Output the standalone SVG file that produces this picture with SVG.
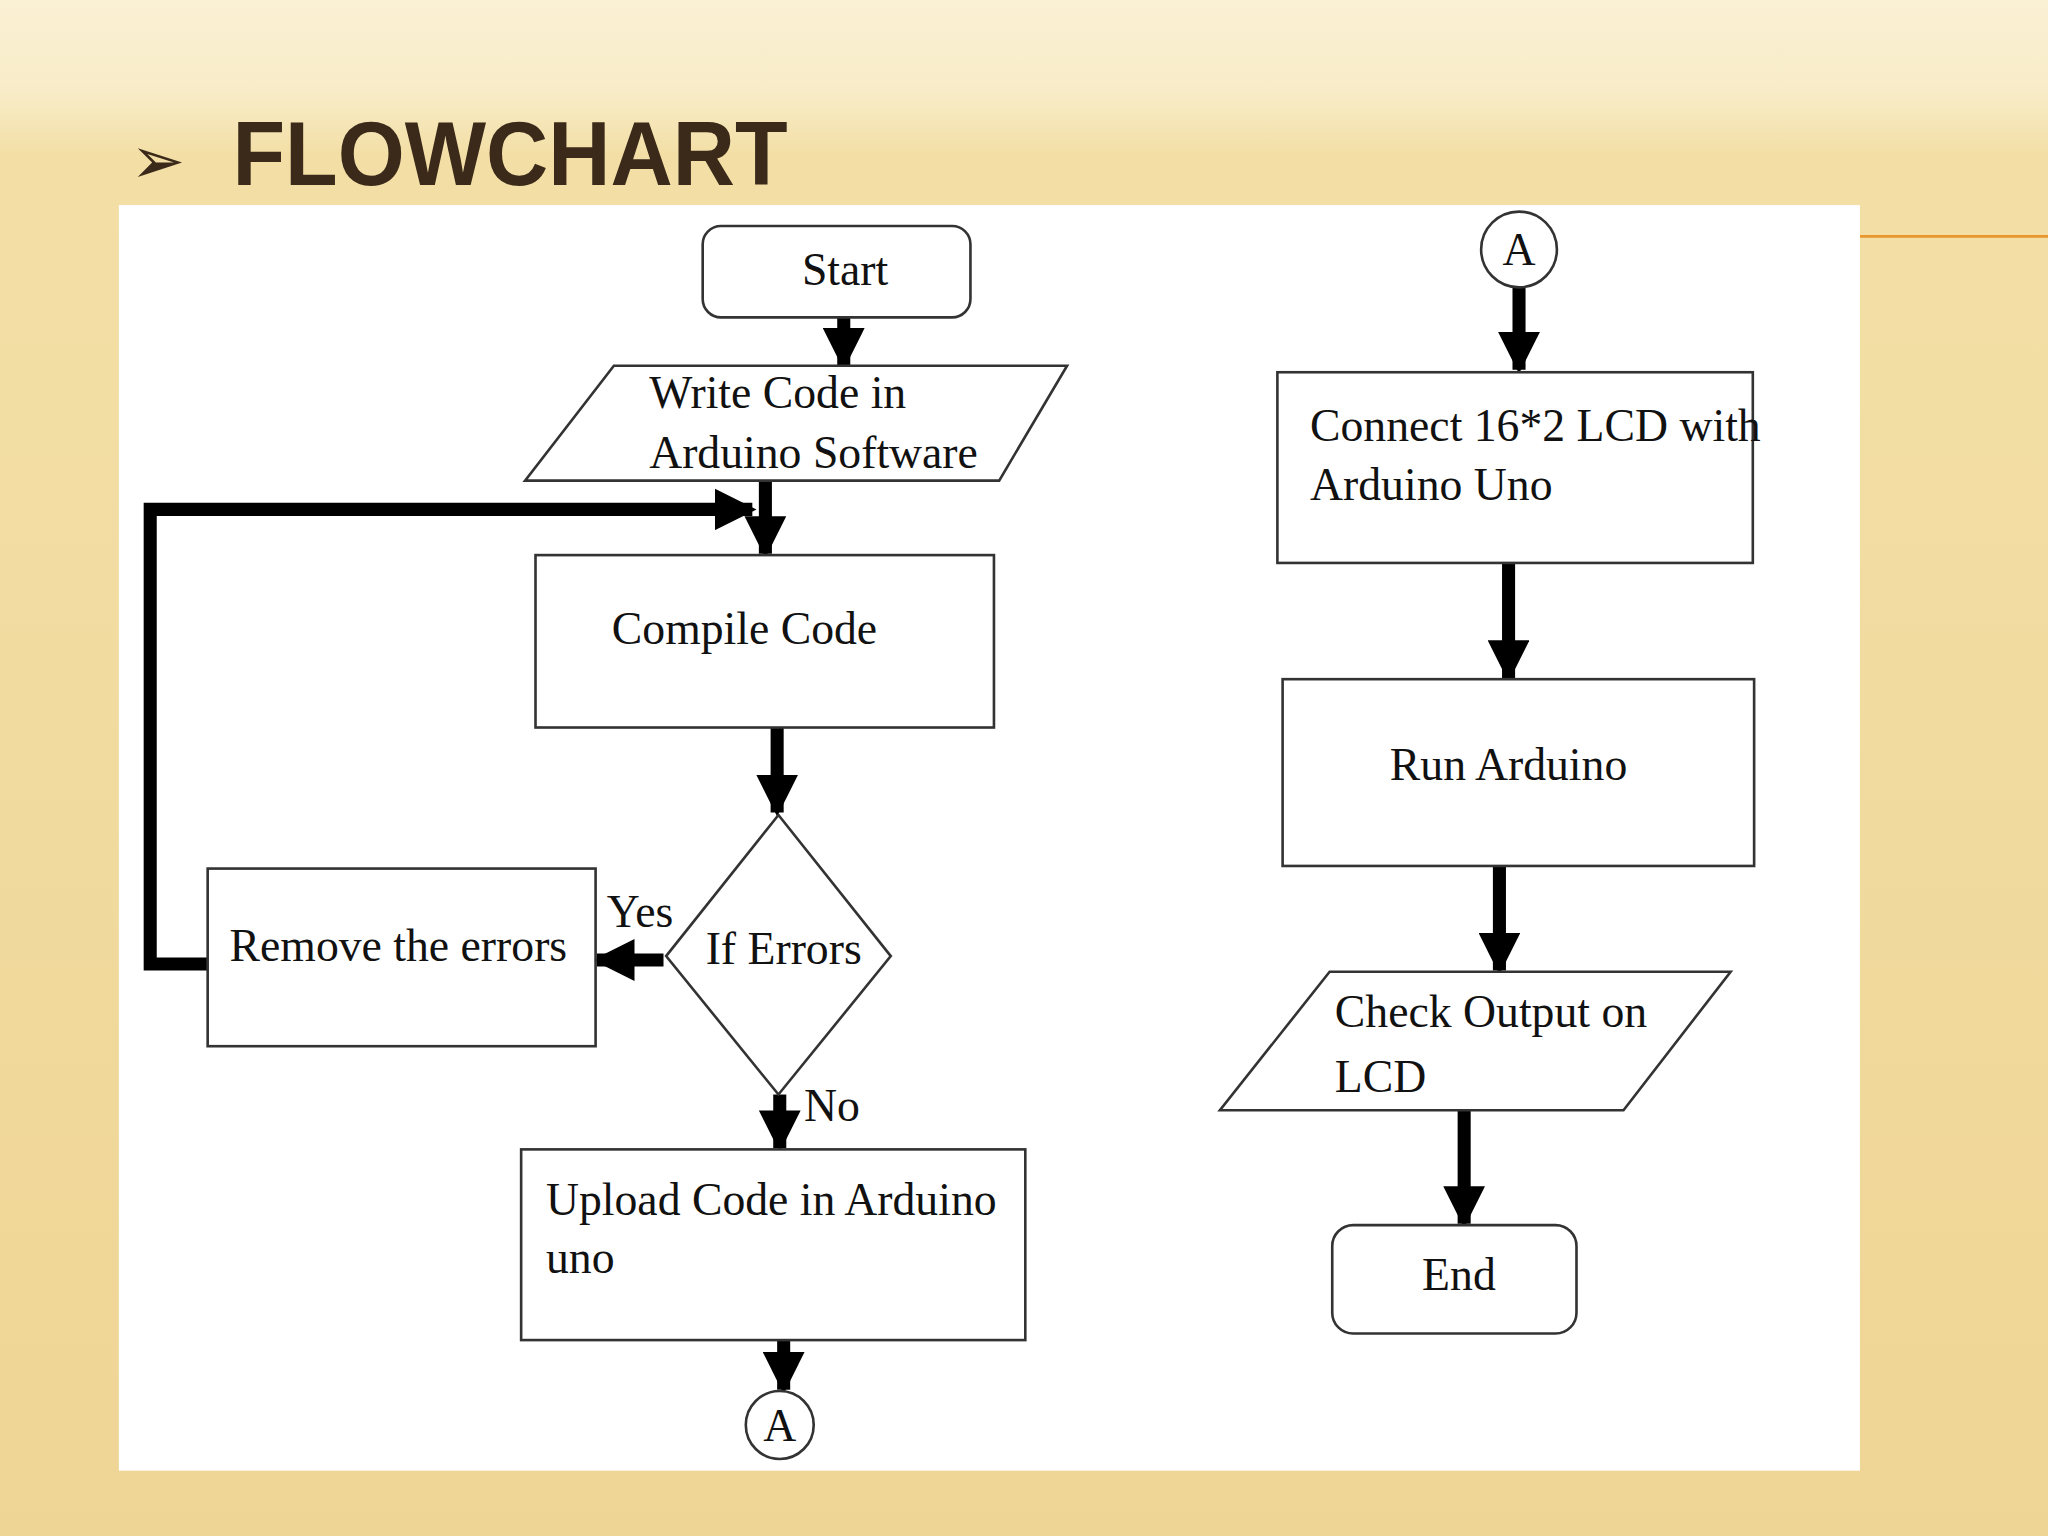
<svg xmlns="http://www.w3.org/2000/svg" width="2048" height="1536" viewBox="0 0 2048 1536">
<defs>
<linearGradient id="bg" x1="0" y1="0" x2="0" y2="1"><stop offset="0" stop-color="#faf0d4"/><stop offset="0.06" stop-color="#f8ecc8"/><stop offset="0.1" stop-color="#f3dfa6"/><stop offset="1" stop-color="#efd595"/></linearGradient>
<marker id="ah" viewBox="0 0 10 10" refX="9" refY="5" markerWidth="3.2" markerHeight="3.2" orient="auto" markerUnits="strokeWidth"><path d="M0,0 L10,5 L0,10 z" fill="#000"/></marker>
<style>
.s{fill:#fff;stroke:#333;stroke-width:2}
.t{font-family:"Liberation Serif",serif;font-size:35px;fill:#111}
.c{stroke:#000;stroke-width:10;fill:none}
</style>
</defs>
<rect width="2048" height="1536" fill="url(#bg)"/>
<g transform="scale(1.30612)">
<line x1="1424" y1="181" x2="1568" y2="181" stroke="#e8962e" stroke-width="2"/>
<text x="100" y="140" font-family="DejaVu Sans,sans-serif" font-size="50" fill="#3b2a1a">➢</text>
<text x="178" y="142" font-family="Liberation Sans,sans-serif" font-weight="bold" font-size="70" fill="#3b2a1a" textLength="425" lengthAdjust="spacingAndGlyphs">FLOWCHART</text>
<rect x="91" y="157" width="1333" height="969" fill="#fff"/>
<g id="connectors">
<line class="c" x1="646" y1="243" x2="646" y2="280" marker-end="url(#ah)"/>
<line class="c" x1="586" y1="368" x2="586" y2="424" marker-end="url(#ah)"/>
<polyline class="c" points="160,738 115,738 115,390 576,390" marker-end="url(#ah)"/>
<line class="c" x1="595" y1="557" x2="595" y2="622" marker-end="url(#ah)"/>
<line class="c" x1="508" y1="735" x2="457" y2="735" marker-end="url(#ah)"/>
<line class="c" x1="597" y1="838" x2="597" y2="879" stroke-width="6" marker-end="url(#ah)"/>
<line class="c" x1="600" y1="1026" x2="600" y2="1064" marker-end="url(#ah)"/>
<line class="c" x1="1163" y1="220" x2="1163" y2="283" stroke-width="7" marker-end="url(#ah)"/>
<line class="c" x1="1155" y1="431" x2="1155" y2="519" marker-end="url(#ah)"/>
<line class="c" x1="1148" y1="663" x2="1148" y2="743" marker-end="url(#ah)"/>
<line class="c" x1="1121" y1="850" x2="1121" y2="937" stroke-width="12" marker-end="url(#ah)"/>
</g>
<g id="start"><rect class="s" x="538" y="173" width="205" height="70" rx="14"/><text class="t" x="647" y="218" text-anchor="middle" font-size="40">Start</text></g>
<g id="write"><polygon class="s" points="470,280 817,280 765,368 402,368"/><text class="t" x="497" y="312">Write Code in</text><text class="t" x="497" y="358">Arduino Software</text></g>
<g id="compile"><rect class="s" x="410" y="425" width="351" height="132"/><text class="t" x="570" y="493" text-anchor="middle">Compile Code</text></g>
<g id="decision"><polygon class="s" points="596,624 682,732 596,838 510,732"/><text class="t" x="600" y="738" text-anchor="middle">If Errors</text></g>
<text class="t" x="490" y="710" text-anchor="middle">Yes</text>
<text class="t" x="637" y="858" text-anchor="middle">No</text>
<g id="remove"><rect class="s" x="159" y="665" width="297" height="136"/><text class="t" x="305" y="736" text-anchor="middle">Remove the errors</text></g>
<g id="upload"><rect class="s" x="399" y="880" width="386" height="146"/><text class="t" x="418" y="930">Upload Code in Arduino</text><text class="t" x="418" y="975">uno</text></g>
<g id="a1"><circle class="s" cx="597" cy="1091" r="26"/><text class="t" x="597" y="1103" text-anchor="middle" font-size="32">A</text></g>
<g id="a2"><circle class="s" cx="1163" cy="191" r="29"/><text class="t" x="1163" y="203" text-anchor="middle" font-size="32">A</text></g>
<g id="connect"><rect class="s" x="978" y="285" width="364" height="146"/><text class="t" x="1003" y="338">Connect 16*2 LCD with</text><text class="t" x="1003" y="383">Arduino Uno</text></g>
<g id="run"><rect class="s" x="982" y="520" width="361" height="143"/><text class="t" x="1155" y="597" text-anchor="middle" font-size="40">Run Arduino</text></g>
<g id="check"><polygon class="s" points="1018,744 1325,744 1243,850 934,850"/><text class="t" x="1022" y="786" font-size="38">Check Output on</text><text class="t" x="1022" y="836" font-size="38">LCD</text></g>
<g id="end"><rect class="s" x="1020" y="938" width="187" height="83" rx="16"/><text class="t" x="1117" y="988" text-anchor="middle" font-size="40">End</text></g>
</g>
</svg>
